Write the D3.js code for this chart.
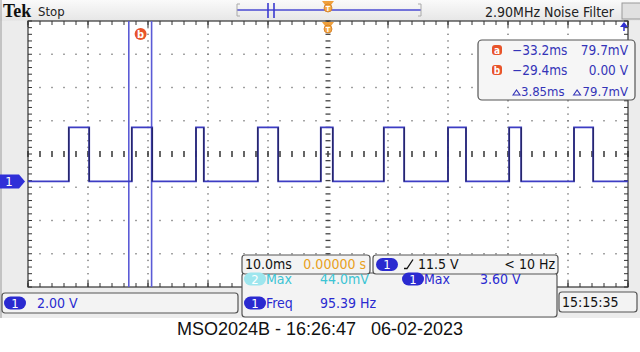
<!DOCTYPE html>
<html><head><meta charset="utf-8">
<script src="https://cdn.jsdelivr.net/npm/d3@7/dist/d3.min.js"></script>
<style>
html,body{margin:0;padding:0;background:#fff;}
svg{display:block;}
.n{font-family:"Liberation Sans Narrow","DejaVu Sans Condensed",sans-serif;}
</style></head>
<body>
<script>
// ---- data ----
const riseMs = [-43.2, -32.7, -22.0, -11.7, -1.2, 9.3, 20.0, 30.2, 41.0];
const fallMs = [-39.8, -29.3, -20.7, -8.3, 0.8, 12.7, 23.0, 32.2, 44.2];
const levelsV = [0.0, 3.25];           // low, high
const cursorMs = [-33.2, -29.4];
const cursorLabels = ["a", "b"];
const readoutTimes = ["\u221233.2ms", "\u221229.4ms", "3.85ms"];
const readoutVolts = ["79.7mV", "0.00 V", "79.7mV"];
const timeDivMs = [-50, -40, -30, -20, -10, 0, 10, 20, 30, 40, 50];
const voltDivs = [-4, -3, -2, -1, 0, 1, 2, 3, 4];

const W = 640, H = 352;
const svg = d3.select("body").append("svg").attr("width", W).attr("height", H);

const L = 28, R = 628, T = 21, B = 287;
const x = d3.scaleLinear([-50, 50], [L, R]);
const yDiv = d3.scaleLinear([-4, 4], [B, T]);
const centerV = 1.65;
const y = d3.scaleLinear([centerV - 8, centerV + 8], [B, T]);

// backgrounds
svg.append("rect").attr("width", W).attr("height", 318).attr("fill", "#ececec");
const gTop = svg.append("defs").append("linearGradient").attr("id", "tg").attr("x1", 0).attr("x2", 0).attr("y1", 0).attr("y2", 1);
gTop.append("stop").attr("offset", 0).attr("stop-color", "#fafafa");
gTop.append("stop").attr("offset", 1).attr("stop-color", "#e6e6e6");
svg.append("rect").attr("x", 0).attr("y", 0).attr("width", W).attr("height", T).attr("fill", "url(#tg)");
svg.append("rect").attr("x", L).attr("y", T).attr("width", R - L).attr("height", B - T).attr("fill", "#fff");
svg.append("rect").attr("x", 0).attr("y", 318).attr("width", W).attr("height", H - 318).attr("fill", "#fff");
svg.append("line").attr("x1", 1).attr("x2", 1).attr("y1", 0).attr("y2", 318).attr("stroke", "#9a9a9a");

// ---- grid ----
const grid = svg.append("g");
const minorX = d3.range(-50, 50.01, 2);
const minorY = d3.range(-4, 4.01, 0.2);
voltDivs.forEach(v => {
  if (v === 0 || v === -4 || v === 4) return;
  minorX.forEach(t => {
    if (Math.abs(t) > 49.9) return;
    grid.append("rect").attr("x", x(t) - 0.7).attr("y", yDiv(v) - 0.7).attr("width", 1.4).attr("height", 1.4).attr("fill", "#777");
  });
});
timeDivMs.forEach(t => {
  if (t === 0 || Math.abs(t) === 50) return;
  minorY.forEach(v => {
    if (Math.abs(v) > 3.95) return;
    grid.append("rect").attr("x", x(t) - 0.7).attr("y", yDiv(v) - 0.7).attr("width", 1.4).attr("height", 1.4).attr("fill", "#777");
  });
});
minorX.forEach(t => {
  grid.append("line").attr("x1", x(t)).attr("x2", x(t)).attr("y1", yDiv(0) - 3).attr("y2", yDiv(0) + 3).attr("stroke", "#333").attr("stroke-width", 1.5);
});
minorY.forEach(v => {
  grid.append("line").attr("x1", x(0) - 2.5).attr("x2", x(0) + 2.5).attr("y1", yDiv(v)).attr("y2", yDiv(v)).attr("stroke", "#444").attr("stroke-width", 1.3);
});
minorX.forEach(t => {
  grid.append("line").attr("x1", x(t)).attr("x2", x(t)).attr("y1", T).attr("y2", T + 4).attr("stroke", "#333");
  grid.append("line").attr("x1", x(t)).attr("x2", x(t)).attr("y1", B).attr("y2", B - 4).attr("stroke", "#333");
});
minorY.forEach(v => {
  grid.append("line").attr("x1", L).attr("x2", L + 4).attr("y1", yDiv(v)).attr("y2", yDiv(v)).attr("stroke", "#333");
  grid.append("line").attr("x1", R).attr("x2", R - 4).attr("y1", yDiv(v)).attr("y2", yDiv(v)).attr("stroke", "#333");
});
timeDivMs.forEach(t => {
  grid.append("line").attr("x1", x(t)).attr("x2", x(t)).attr("y1", T).attr("y2", T + 6).attr("stroke", "#333");
  grid.append("line").attr("x1", x(t)).attr("x2", x(t)).attr("y1", B).attr("y2", B - 6).attr("stroke", "#333");
});
grid.append("rect").attr("x", L).attr("y", T).attr("width", R - L).attr("height", B - T).attr("fill", "none").attr("stroke", "#333").attr("stroke-width", 1.2);

// ---- cursors ----
cursorMs.forEach(t => {
  svg.append("line").attr("x1", x(t)).attr("x2", x(t)).attr("y1", T).attr("y2", B).attr("stroke", "#5b5bd6").attr("stroke-width", 1.6);
});

// ---- trace ----
const pts = [[-50, levelsV[0]]];
riseMs.forEach((r, i) => {
  pts.push([r, levelsV[0]], [r, levelsV[1]], [fallMs[i], levelsV[1]], [fallMs[i], levelsV[0]]);
});
pts.push([50, levelsV[0]]);
svg.append("path").attr("d", d3.line().x(d => x(d[0])).y(d => y(d[1]))(pts))
  .attr("fill", "none").attr("stroke", "#3d3dc4").attr("stroke-width", 1.8);
riseMs.concat(fallMs).forEach(t => {
  svg.append("line").attr("x1", x(t)).attr("x2", x(t)).attr("y1", y(levelsV[0])).attr("y2", y(levelsV[1])).attr("stroke", "#222255").attr("stroke-width", 1.2);
});

// cursor b marker in plot
const bx = x(cursorMs[1]) - 11, by = 34;
svg.append("circle").attr("cx", bx).attr("cy", by).attr("r", 6).attr("fill", "#e8542a");
svg.append("text").attr("class", "n").attr("x", bx).attr("y", by + 4).attr("text-anchor", "middle").attr("font-size", 11).attr("font-weight", "bold").attr("fill", "#fff").text("b");

// channel 1 ground marker
const gy = y(0);
svg.append("path").attr("d", `M0,${gy - 7}H19L25,${gy}L19,${gy + 7}H0Z`).attr("fill", "#2f2fd8");
svg.append("text").attr("class", "n").attr("x", 9).attr("y", gy + 5).attr("text-anchor", "middle").attr("font-size", 13).attr("fill", "#fff").text("1");

// ---- top bar ----
svg.append("text").attr("x", 3).attr("y", 17).attr("font-family", "Liberation Serif, DejaVu Serif, serif").attr("font-weight", "bold").attr("font-size", 18).attr("fill", "#111").text("Tek");
svg.append("text").attr("class", "n").attr("x", 38).attr("y", 16).attr("font-size", 13).attr("fill", "#222").text("Stop");
svg.append("line").attr("x1", 237).attr("x2", 421).attr("y1", 10).attr("y2", 10).attr("stroke", "#4a4ad2").attr("stroke-width", 1.5);
[[237, 1], [421, -1]].forEach(([bxx, s]) => {
  svg.append("path").attr("d", `M${bxx + 3 * s},4H${bxx}V16H${bxx + 3 * s}`).attr("fill", "none").attr("stroke", "#aaa");
});
[268, 274].forEach(xx => svg.append("line").attr("x1", xx).attr("x2", xx).attr("y1", 3).attr("y2", 18).attr("stroke", "#3a3ad0").attr("stroke-width", 1.6));
function trig(cx, cy) {
  svg.append("path").attr("d", `M${cx - 6},${cy - 6}H${cx + 6}L${cx},${cy + 2}Z`).attr("fill", "#f0a03c");
  svg.append("circle").attr("cx", cx).attr("cy", cy + 1).attr("r", 4).attr("fill", "#f5a94a").attr("stroke", "#d07a20").attr("stroke-width", 0.8);
  svg.append("text").attr("class", "n").attr("x", cx).attr("y", cy + 4).attr("text-anchor", "middle").attr("font-size", 7).attr("fill", "#fff").attr("font-weight", "bold").text("T");
}
trig(x(0), 7);
trig(x(0), 28);
svg.append("text").attr("class", "n").attr("x", 485).attr("y", 17).attr("font-size", 14).attr("fill", "#222").text("2.90MHz  Noise Filter");
svg.append("rect").attr("x", 622).attr("y", 3).attr("width", 20).attr("height", 16).attr("fill", "#e0e0e0").attr("stroke", "#999");
svg.append("path").attr("d", "M620,27L624,22L628,27Z").attr("fill", "#3030d0");
svg.append("line").attr("x1", 624).attr("x2", 624).attr("y1", 25).attr("y2", 31).attr("stroke", "#3030d0").attr("stroke-width", 1.5);

// ---- cursor readout ----
svg.append("rect").attr("x", 478).attr("y", 40).attr("width", 157).attr("height", 60).attr("rx", 4).attr("fill", "#f6f6f6").attr("stroke", "#555").attr("stroke-width", 1.2);
const rowY = [50, 70, 91];
function delta(dx, cy) {
  svg.append("path").attr("d", `M${dx},${cy + 3}L${dx + 3.5},${cy - 2}L${dx + 7},${cy + 3}Z`).attr("fill", "none").attr("stroke", "#3434b8").attr("stroke-width", 1.1);
}
readoutTimes.forEach((t, i) => {
  if (i < 2) {
    svg.append("rect").attr("x", 492).attr("y", rowY[i] - 5).attr("width", 10).attr("height", 10).attr("rx", 3).attr("fill", "#e8542a");
    svg.append("text").attr("class", "n").attr("x", 497).attr("y", rowY[i] + 3.5).attr("text-anchor", "middle").attr("font-size", 10).attr("font-weight", "bold").attr("fill", "#fff").text(cursorLabels[i]);
    svg.append("text").attr("class", "n").attr("x", 512).attr("y", rowY[i] + 5).attr("font-size", 13.5).attr("fill", "#3434b8").text(t);
  } else {
    delta(513, rowY[i] + 1);
    svg.append("text").attr("class", "n").attr("x", 521).attr("y", rowY[i] + 5).attr("font-size", 13).attr("fill", "#3434b8").text(t);
  }
  const vt = svg.append("text").attr("class", "n").attr("x", 628).attr("y", rowY[i] + 5).attr("text-anchor", "end").attr("font-size", i === 2 ? 13 : 13.5).attr("fill", "#3434b8").text(readoutVolts[i]);
  if (i === 2) {
    const bb = vt.node().getBBox();
    delta(bb.x - 9, rowY[i] + 1);
  }
});

// ---- bottom panels ----
function box(x0, y0, w, h) {
  svg.append("rect").attr("x", x0).attr("y", y0).attr("width", w).attr("height", h).attr("rx", 3).attr("fill", "#f3f3f3").attr("stroke", "#555").attr("stroke-width", 1.2);
}
function pill(cx, cy, label, fill) {
  svg.append("rect").attr("x", cx - 11).attr("y", cy - 6.5).attr("width", 22).attr("height", 13).attr("rx", 6.5).attr("fill", fill);
  svg.append("text").attr("class", "n").attr("x", cx).attr("y", cy + 4.5).attr("text-anchor", "middle").attr("font-size", 13).attr("fill", "#fff").text(label);
}
box(242, 273, 315, 44);
box(242, 255, 128, 19);
box(373, 255, 185, 19);
svg.append("text").attr("class", "n").attr("x", 245).attr("y", 269).attr("font-size", 14).attr("fill", "#111").text("10.0ms");
svg.append("text").attr("class", "n").attr("x", 366).attr("y", 269).attr("text-anchor", "end").attr("font-size", 14).attr("fill", "#e8a020").text("0.00000 s");
pill(387, 264.5, "1", "#2a2ad0");
svg.append("path").attr("d", "M404,268.5H407L413,259.5").attr("fill", "none").attr("stroke", "#111").attr("stroke-width", 1.3);
svg.append("text").attr("class", "n").attr("x", 418).attr("y", 269).attr("font-size", 14).attr("fill", "#111").text("11.5 V");
svg.append("text").attr("class", "n").attr("x", 555).attr("y", 269).attr("text-anchor", "end").attr("font-size", 14).attr("fill", "#111").text("< 10 Hz");

pill(255, 279, "2", "#9ee6ee");
svg.append("text").attr("class", "n").attr("x", 266).attr("y", 284).attr("font-size", 14).attr("fill", "#3cc4d4").text("Max");
svg.append("text").attr("class", "n").attr("x", 320).attr("y", 284).attr("font-size", 14).attr("fill", "#3cc4d4").text("44.0mV");
pill(413, 279, "1", "#2a2ad0");
svg.append("text").attr("class", "n").attr("x", 424).attr("y", 284).attr("font-size", 14).attr("fill", "#2a2ad0").text("Max");
svg.append("text").attr("class", "n").attr("x", 480).attr("y", 284).attr("font-size", 14).attr("fill", "#2a2ad0").text("3.60 V");
pill(255, 303, "1", "#2a2ad0");
svg.append("text").attr("class", "n").attr("x", 266).attr("y", 308).attr("font-size", 14).attr("fill", "#2a2ad0").text("Freq");
svg.append("text").attr("class", "n").attr("x", 320).attr("y", 308).attr("font-size", 14).attr("fill", "#2a2ad0").text("95.39 Hz");

box(2, 293, 236, 20);
pill(15, 303, "1", "#2a2ad0");
svg.append("text").attr("class", "n").attr("x", 37).attr("y", 308).attr("font-size", 14).attr("fill", "#2a2ad0").text("2.00 V");
box(559, 292, 78, 20);
svg.append("text").attr("class", "n").attr("x", 562).attr("y", 307).attr("font-size", 14).attr("fill", "#111").text("15:15:35");

// footer
svg.append("text").attr("x", 320).attr("y", 335).attr("text-anchor", "middle").attr("font-family", "Liberation Sans, Arial, sans-serif").attr("font-size", 18).attr("fill", "#111").style("white-space", "pre").text("MSO2024B - 16:26:47   06-02-2023");
</script>
</body></html>
